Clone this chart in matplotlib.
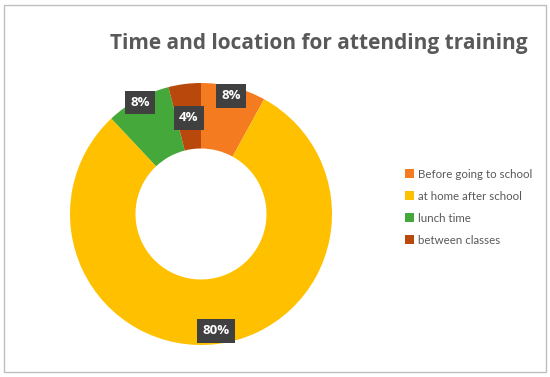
import matplotlib.pyplot as plt
import numpy as np
from matplotlib.patches import Rectangle

labels = ["Before going to school", "at home after school", "lunch time", "between classes"]
values = [8, 80, 8, 4]
colors = ["#F47B20", "#FFC000", "#44A83A", "#B8480C"]
label_r = [0.93, 0.90, 0.97, 0.74]

fig = plt.figure(figsize=(5.5, 3.77), dpi=100)
fig.patches.append(Rectangle((0.008, 0.012), 0.984, 0.976, transform=fig.transFigure,
                             fill=False, ec="#BFBFBF", lw=1))

W, H = 550, 377
cx, cy, R = 201, 214, 131
ax = fig.add_axes([(cx - R) / W, (H - cy - R) / H, 2 * R / W, 2 * R / H])
wedges, _ = ax.pie(values, colors=colors, startangle=90, counterclock=False,
                   radius=1, wedgeprops=dict(width=0.5, linewidth=0))
ax.set_xlim(-1, 1)
ax.set_ylim(-1, 1)
ax.set_aspect("equal")

total = sum(values)
start = 90
for v, r in zip(values, label_r):
    mid = np.radians(start - v / total * 360 / 2)
    start -= v / total * 360
    ax.text(r * np.cos(mid), r * np.sin(mid), f"{v}%", ha="center", va="center",
            color="white", fontsize=9.5, fontweight="bold", family="Open Sans",
            bbox=dict(boxstyle="square,pad=0.4", fc="#404040", ec="none"))

fig.text(0.96, 0.885, "Time and location for attending training", ha="right", va="center",
         fontsize=15, fontweight="bold", color="#595959", family="Open Sans")

leg = fig.legend(wedges, labels, loc="upper left", bbox_to_anchor=(0.718, 0.58),
                 frameon=False, prop=dict(family="Lato", size=8.3), handlelength=0.75,
                 handleheight=0.75, handletextpad=0.35, labelspacing=0.95,
                 labelcolor="#595959")

fig.savefig("out.png", dpi=100)
